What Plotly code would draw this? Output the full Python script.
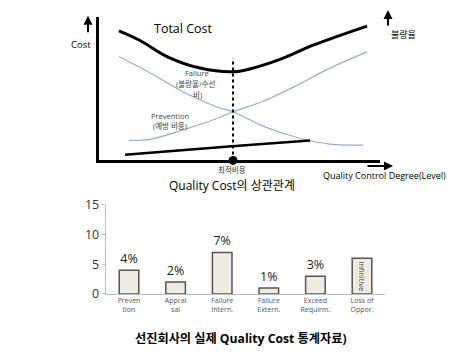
import plotly.graph_objects as go

W, H = 474, 355

# ---------------- Top concept diagram (quality level 0-100, cost 0-100) ----------------
total_x = [7.1, 14.6, 24.2, 35.9, 47.7, 53.7, 64.4, 76.2, 95.4]
total_y = [90.1, 83.4, 72.2, 64.2, 61.6, 63.6, 70.2, 80.1, 93.4]

failure_x = [7.1, 18.1, 29.9, 42.0, 47.7, 58.4, 70.5, 82.2, 94.0]
failure_y = [72.2, 60.9, 47.7, 37.1, 33.8, 23.8, 15.9, 11.3, 10.6]

prevention_x = [10.7, 18.1, 29.9, 42.0, 47.7, 58.4, 70.5, 82.2, 95.4]
prevention_y = [13.9, 14.6, 21.2, 29.1, 33.8, 41.1, 52.3, 64.2, 75.5]

base_x = [9.3, 47.3, 75.1]
base_y = [4.0, 9.9, 13.9]

optimum_x = 47.7
optimum_top = 71.0

# ---------------- Bottom bar chart ----------------
categories = ["Preven<br>tion", "Apprai<br>sal", "Failure<br>Intern.",
              "Failure<br>Extern.", "Exceed<br>Requirm.", "Loss of<br>Oppor."]
values = [4, 2, 7, 1, 3, 6]
value_labels = ["4%", "2%", "7%", "1%", "3%", ""]
bar_notes = ["", "", "", "", "", "Infinitive"]
y_ticks = [0, 5, 10, 15]

KR = "Open Sans, Noto Sans CJK KR"
BLUE = "#93AECF"

fig = go.Figure()

# top curves
fig.add_trace(go.Scatter(x=failure_x, y=failure_y, mode="lines", line=dict(color=BLUE, width=1.2, shape="spline"),
                         xaxis="x", yaxis="y", hoverinfo="skip"))
fig.add_trace(go.Scatter(x=prevention_x, y=prevention_y, mode="lines", line=dict(color=BLUE, width=1.2, shape="spline"),
                         xaxis="x", yaxis="y", hoverinfo="skip"))
fig.add_trace(go.Scatter(x=total_x, y=total_y, mode="lines", line=dict(color="black", width=3, shape="spline"),
                         xaxis="x", yaxis="y", hoverinfo="skip"))
fig.add_trace(go.Scatter(x=base_x, y=base_y, mode="lines", line=dict(color="black", width=2.5, shape="spline"),
                         xaxis="x", yaxis="y", hoverinfo="skip"))
fig.add_trace(go.Scatter(x=[optimum_x, optimum_x], y=[0, optimum_top], mode="lines",
                         line=dict(color="black", width=2, dash="dot"), xaxis="x", yaxis="y", hoverinfo="skip"))
fig.add_trace(go.Scatter(x=[optimum_x], y=[0], mode="markers", marker=dict(color="black", size=9),
                         cliponaxis=False, xaxis="x", yaxis="y", hoverinfo="skip"))

# bars
fig.add_trace(go.Bar(x=categories, y=values, text=value_labels, textposition="outside",
                     textfont=dict(family=KR, size=12.5, color="#222"),
                     marker=dict(color="#EEECE1", line=dict(color="#555555", width=1.5)),
                     xaxis="x2", yaxis="y2", cliponaxis=False, hoverinfo="skip"))

def px_x(p):
    return p / W

def px_y(p):
    return 1 - p / H

annotations = []

def txt(x, y, s, size, color="black", xanchor="center", family=KR):
    annotations.append(dict(x=px_x(x), y=px_y(y), xref="paper", yref="paper", text=s, showarrow=False,
                            xanchor=xanchor, yanchor="middle",
                            font=dict(family=family, size=size, color=color)))

txt(183, 21, "Total Cost", 12.5)
txt(81, 37, "Cost", 9.5)
txt(403, 27, "불량율", 9)
txt(197, 67, "Failure", 7.5, "#444")
txt(196, 79, "(불량율/수선", 7.5, "#444")
txt(197, 90, "비)", 7.5, "#444")
txt(170, 112, "Prevention", 7.5, "#444")
txt(170, 123, "(예방 비용)", 7.5, "#444")
txt(232, 169, "최적비용", 7.5, "#333")
txt(232, 185, "Quality Cost의 상관관계", 12)
txt(384, 175, "Quality Control Degree(Level)", 9)
txt(241, 346, "<b>선진회사의 실제 Quality Cost 통계자료)</b>", 12.2)

# arrows
def arrow(hx, hy, dx, dy):
    annotations.append(dict(x=px_x(hx), y=px_y(hy), xref="paper", yref="paper", ax=dx, ay=dy,
                            showarrow=True, arrowhead=2, arrowsize=0.9, arrowwidth=2, arrowcolor="black", text=""))

arrow(88, 7, 0, 18)
arrow(388, 1, 0, 17)
arrow(393, 165, -27, 0)

# "Infinitive" note inside last bar
for c, v, n in zip(categories, values, bar_notes):
    if n:
        annotations.append(dict(x=c, y=v / 2, xref="x2", yref="y2", text=n, showarrow=False, textangle=90,
                                font=dict(family=KR, size=7.5, color="#444")))

fig.update_layout(
    width=W, height=H, margin=dict(l=0, r=0, t=0, b=0),
    paper_bgcolor="white", plot_bgcolor="rgba(0,0,0,0)", showlegend=False,
    font=dict(family=KR),
    xaxis=dict(domain=[99 / W, 380 / W], range=[0, 100], showgrid=False, zeroline=False, showticklabels=False,
               showline=True, linecolor="black", linewidth=2.5, ticks=""),
    yaxis=dict(domain=[1 - 159 / H, 1 - 8 / H], range=[0, 100], showgrid=False, zeroline=False, showticklabels=False,
               showline=True, linecolor="black", linewidth=2.5, ticks=""),
    xaxis2=dict(domain=[105.7 / W, 385.3 / W], range=[-0.5, 5.5], showgrid=False, zeroline=False,
                showline=True, linecolor="#BBBBBB", linewidth=1, ticks="", anchor="y2",
                tickfont=dict(family=KR, size=7, color="#555")),
    yaxis2=dict(domain=[1 - 299.3 / H, 1 - 205.7 / H], range=[0, 15], tickvals=y_ticks, showgrid=False,
                zeroline=False, showline=True, linecolor="#BBBBBB", linewidth=1, ticks="outside", ticklen=3,
                tickcolor="#BBBBBB", anchor="x2", tickfont=dict(family=KR, size=12.5, color="#333")),
    bargap=0.58,
    annotations=annotations,
)

fig.write_html("out.html", config={"displayModeBar": False},
               post_script="document.body.style.margin='0';document.body.style.overflow='hidden';")
